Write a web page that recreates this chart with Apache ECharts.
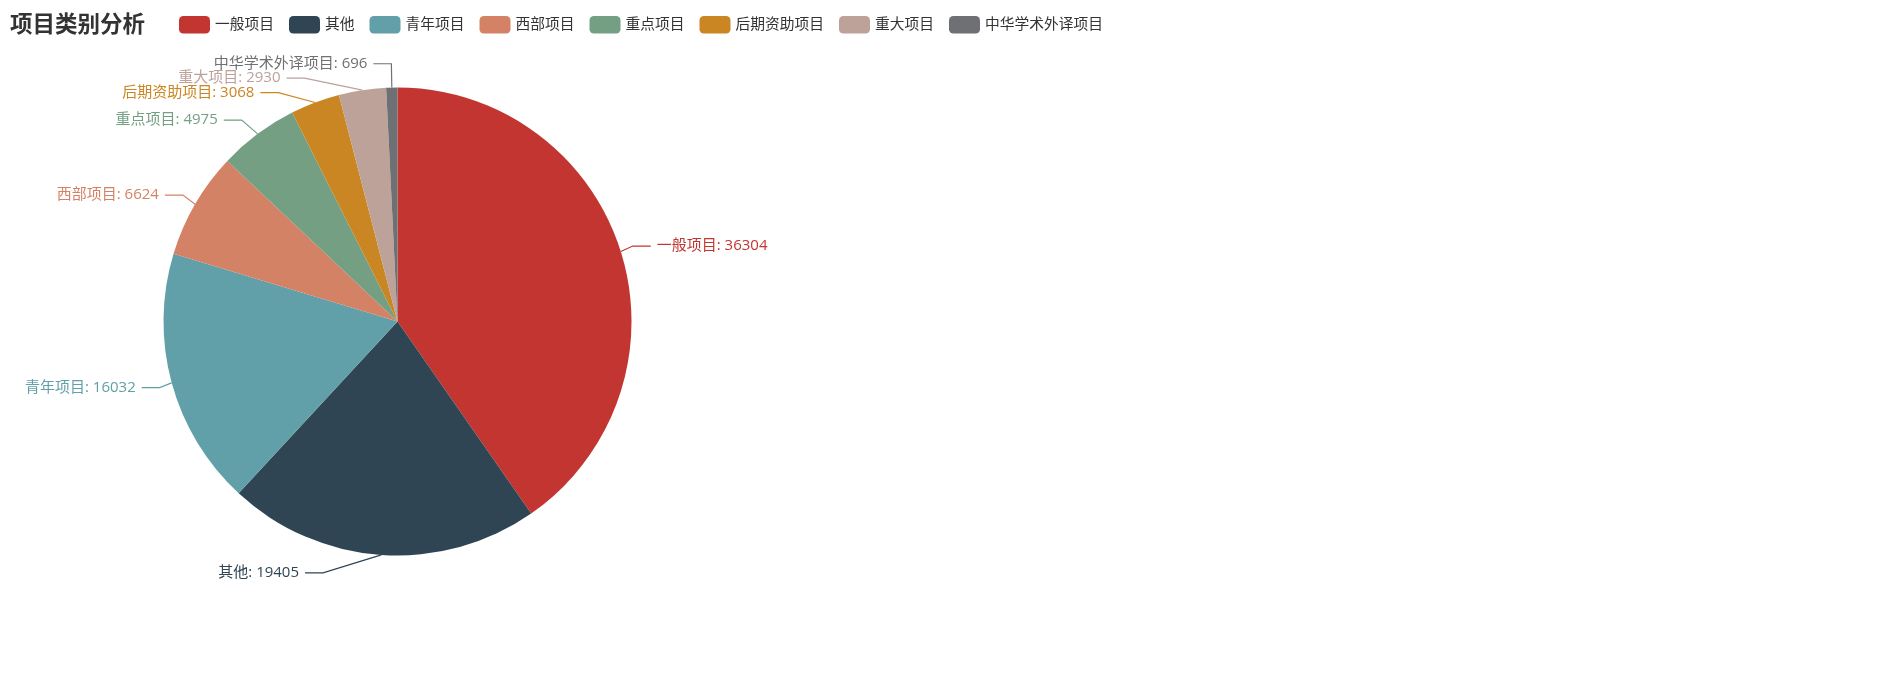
<!DOCTYPE html>
<html><head><meta charset="utf-8">
<script src="https://cdn.jsdelivr.net/npm/echarts@6/dist/echarts.min.js"></script>
<style>html,body{margin:0;padding:0;background:#fff}#c{width:1884px;height:678px}</style>
</head><body><div id="c"></div>
<script>
const categories = ['一般项目','其他','青年项目','西部项目','重点项目','后期资助项目','重大项目','中华学术外译项目'];
const values = [36304, 19405, 16032, 6624, 4975, 3068, 2930, 696];
const colors = ['#c23531','#2f4554','#61a0a8','#d48265','#749f83','#ca8622','#bda29a','#6e7074'];
const FONT = '"Open Sans","Noto Sans CJK SC",sans-serif';

// pie geometry (pixels)
const CX = 397.5, CY = 321.5, R = 234, LEN = 18, LEN2 = 18, DIST = 6, LH = 14.4, VH = 678;

// classic (v4-style) outside-label placement computed from the data angles
function classicLabelLayout() {
  const total = values.reduce((a, b) => a + b, 0);
  let acc = 0;
  const all = values.map((v, i) => {
    const start = -Math.PI / 2 + acc / total * 2 * Math.PI;
    acc += v;
    const end = -Math.PI / 2 + acc / total * 2 * Math.PI;
    const mid = (start + end) / 2;
    const dx = Math.cos(mid), dy = Math.sin(mid);
    const x1 = CX + R * dx, y1 = CY + R * dy;
    const x2 = x1 + dx * LEN, y2 = y1 + dy * LEN;
    const x3 = x2 + (dx < 0 ? -1 : 1) * LEN2;
    return {i, x: x3 + (dx < 0 ? -DIST : DIST), y: y2, height: LH,
      pts: [[x1, y1], [x2, y2], [x3, y2]], align: dx > 0 ? 'left' : 'right'};
  });
  function side(list, dir) {
    list.sort((a, b) => a.y - b.y);
    function shiftUp(end, delta) {
      for (let j = end; j >= 0; j--) {
        if (list[j].y - delta < 0) break;
        list[j].y -= delta;
        if (j > 0 && list[j].y > list[j - 1].y + list[j - 1].height) break;
      }
    }
    function shiftDown(start, end, delta) {
      for (let j = start; j < end; j++) {
        if (list[j].y + delta > VH) break;
        list[j].y += delta;
        if (j > start && j + 1 < end && list[j + 1].y > list[j].y + list[j].height) {
          shiftUp(j, delta / 2);
          return;
        }
      }
      shiftUp(end - 1, delta / 2);
    }
    function changeX(sub, isDown) {
      let last = isDown ? Number.MAX_VALUE : 0;
      for (const l of sub) {
        const dY = Math.abs(l.y - CY);
        let dX = dY < R + LEN ? Math.sqrt((R + LEN + LEN2) ** 2 - dY * dY) : Math.abs(l.x - CX);
        if (isDown && dX >= last) dX = last - 12;
        if (!isDown && dX <= last) dX = last + 12;
        l.x = CX + dX * dir;
        last = dX;
      }
    }
    let lastY = 0;
    for (let i = 0; i < list.length; i++) {
      const d = list[i].y - lastY;
      if (d < 0) shiftDown(i, list.length, -d);
      lastY = list[i].y + list[i].height;
    }
    if (VH - lastY < 0) shiftUp(list.length - 1, lastY - VH);
    changeX(list.filter(l => l.y < CY), false);
    changeX(list.filter(l => l.y >= CY), true);
  }
  side(all.filter(l => l.align === 'left'), 1);
  side(all.filter(l => l.align === 'right'), -1);
  all.forEach(l => {
    const p = l.pts;
    const dist = p[1][0] - p[2][0];
    p[2][0] = l.align === 'right' ? l.x + DIST : l.x - DIST;
    p[1][0] = p[2][0] + dist;
    p[1][1] = p[2][1] = l.y;
  });
  return all;
}
const labelPos = classicLabelLayout();

const chart = echarts.init(document.getElementById('c'));
chart.setOption({
  color: colors,
  animation: false,
  textStyle: {fontFamily: FONT},
  title: {text: '项目类别分析', left: 4, top: 8, padding: 6,
    textStyle: {fontSize: 22.5, fontWeight: 'bold', color: '#333', fontFamily: FONT}},
  legend: {data: categories, left: 173, top: 10, padding: 6, itemWidth: 31, itemHeight: 17.5, itemGap: 15,
    icon: 'roundRect', textStyle: {fontSize: 14.75, color: '#333', fontFamily: FONT}},
  series: [{
    type: 'pie', center: [CX, CY], radius: R,
    data: categories.map((n, i) => ({name: n, value: values[i], label: {color: colors[i]}})),
    label: {formatter: '{b}: {c}', fontSize: 15, fontFamily: FONT},
    labelLine: {length: LEN, length2: LEN2, lineStyle: {width: 1.2}},
    labelLayout: function (params) {
      const l = labelPos[params.dataIndex];
      return {x: l.x, y: l.y, align: l.align, verticalAlign: 'middle',
        labelLinePoints: l.pts.map(p => p.slice())};
    }
  }]
});
</script></body></html>
